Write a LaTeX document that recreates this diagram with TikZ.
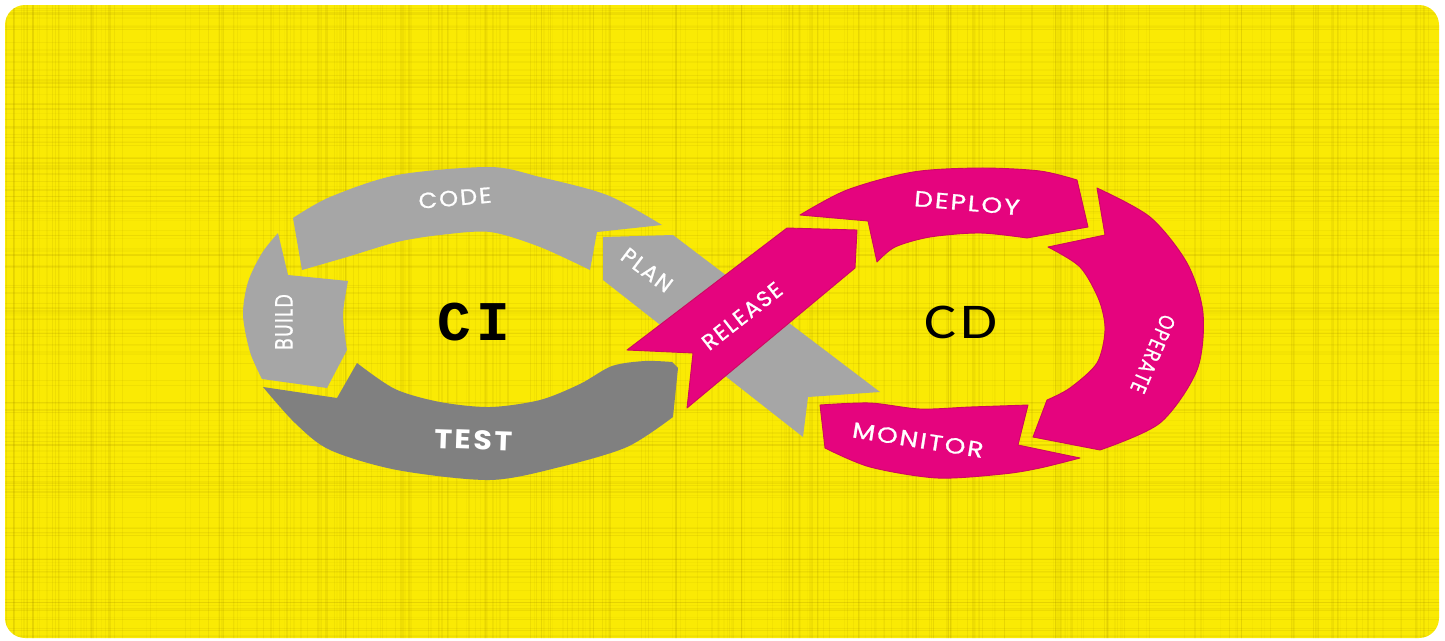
\documentclass[tikz,border=0pt]{standalone}
\usepackage{fontspec}
\setmainfont{Poppins}
\newfontfamily\lblfont{Poppins}[LetterSpace=8, FakeBold=0.9]
\newfontfamily\testfont{Poppins}[LetterSpace=8]
\newfontfamily\monofont{Liberation Mono}[LetterSpace=10]
\newfontfamily\cdfont{Carlito}[LetterSpace=8]
\definecolor{bgyellow}{RGB}{250,234,4}
\definecolor{texbrown}{RGB}{140,115,0}
\definecolor{ltgray}{RGB}{166,166,166}
\definecolor{dkgray}{RGB}{128,128,128}
\definecolor{mypink}{RGB}{229,4,126}
\definecolor{pinkedge}{RGB}{205,10,95}
\begin{document}
\begin{tikzpicture}[x=1pt,y=-1pt,
  pinkpiece/.style={fill=mypink, draw=pinkedge, line width=0.9pt, line join=round},
  lbl/.style={text=white, inner sep=0pt, font=\lblfont\fontsize{22}{25}\selectfont},
  bold lbl/.style={text=white, inner sep=0pt, font=\testfont\bfseries\fontsize{27}{30}\selectfont},
  big/.style={text=black, inner sep=0pt}]
\useasboundingbox (0,0) rectangle (1445,640);
\fill[white] (0,0) rectangle (1445,640);
% textured yellow background
\begin{scope}
  \clip[rounded corners=20] (5,5) rectangle (1439,638);
  \fill[bgyellow] (0,0) rectangle (1445,640);
  \pgfmathsetseed{11}
  \foreach \i in {1,...,320}{
    \pgfmathsetmacro{\xx}{5+1434*rnd}
    \pgfmathsetmacro{\op}{0.03+0.09*rnd}
    \pgfmathsetmacro{\lw}{0.4+1.4*rnd}
    \draw[line width=\lw pt, draw=texbrown, opacity=\op] (\xx,0) -- (\xx,640);
  }
  \foreach \i in {1,...,160}{
    \pgfmathsetmacro{\yy}{5+633*rnd}
    \pgfmathsetmacro{\op}{0.03+0.09*rnd}
    \pgfmathsetmacro{\lw}{0.4+1.4*rnd}
    \draw[line width=\lw pt, draw=texbrown, opacity=\op] (0,\yy) -- (1445,\yy);
  }
\end{scope}
% ---------- CI loop ----------
% CODE
\fill[ltgray] (293,218) -- plot[smooth] coordinates {(293,218) (330,197) (397,175) (490,167) (540,177) (607,195) (662,225)}
  -- (597,232) -- (590,270)
  -- plot[smooth] coordinates {(590,270) (540,247) (490,232) (440,235) (397,242) (347,257) (302,270)} -- cycle;
% BUILD
\fill[ltgray] (278,233) -- (288,275) -- (348,281)
  -- plot[smooth] coordinates {(348,281) (343,315) (347,350)}
  -- (327,388) -- (262,379)
  -- plot[smooth] coordinates {(262,379) (250,352) (243,315) (248,282) (262,253) (278,233)} -- cycle;
% TEST
\fill[dkgray] (263,387) -- (337,398) -- (357,363)
  -- plot[smooth] coordinates {(357,363) (395,389) (440,402) (490,407) (540,400) (580,384) (612,366) (645,361) (672,362)}
  -- (678,368) -- (673,417)
  -- plot[smooth] coordinates {(673,417) (627,447) (560,467) (490,480) (397,470) (330,450) (295,423) (263,387)} -- cycle;
% PLAN (band under RELEASE)
\fill[ltgray] (603,237) -- (673,235) -- (880,392) -- (808,397) -- (803,437) -- (603,280) -- cycle;
% ---------- CD loop ----------
% RELEASE
\path[pinkpiece] (627,350) -- (693,353) -- (687,408) -- (855,268) -- (857,230) -- (787,228) -- cycle;
% DEPLOY
\path[pinkpiece] (800,215) -- plot[smooth] coordinates {(800,215) (847,190) (913,172) (980,168) (1040,171) (1077,180)}
  -- (1088,227) -- (1027,238)
  -- plot[smooth] coordinates {(1027,238) (980,233) (930,237) (895,247) (877,262)}
  -- (868,221) -- cycle;
% OPERATE
\path[pinkpiece] (1097,188) -- (1105,235) -- (1048,247)
  -- plot[smooth] coordinates {(1048,247) (1080,267) (1099,300) (1105,330) (1097,363) (1070,388) (1047,400)}
  -- (1033,437) -- (1100,450)
  -- plot[smooth] coordinates {(1100,450) (1160,423) (1197,370) (1203,313) (1187,263) (1150,217) (1097,188)} -- cycle;
% MONITOR
\path[pinkpiece] (820,405) -- plot[smooth] coordinates {(820,405) (870,403) (920,409) (970,407) (1028,405)}
  -- (1018,445) -- (1080,458)
  -- plot[smooth] coordinates {(1080,458) (1040,468) (1003,474) (937,478) (870,467) (825,448)} -- cycle;
% ---------- labels ----------
\node[lbl, rotate=5, xscale=1.1] (code) at (455,198) {CODE};
\node[lbl, rotate=90, font=\lblfont\fontsize{25}{28}\selectfont, xscale=0.74] (build) at (284,322) {BUILD};
\node[bold lbl, rotate=-2, xscale=1.12] (test) at (474,440) {TEST};
\node[lbl, rotate=-37] (plan) at (647,270) {PLAN};
\node[lbl, rotate=38] (release) at (742,316) {RELEASE};
\node[lbl, rotate=-5, xscale=1.2] (deploy) at (967,203) {DEPLOY};
\node[lbl, rotate=-113, xscale=0.8] (operate) at (1153,354) {OPERATE};
\node[lbl, rotate=-9, xscale=1.2] (monitor) at (918,440) {MONITOR};
\node[big, font=\monofont\bfseries\fontsize{56}{60}\selectfont] (ci) at (474,322) {CI};
\node[big, font=\cdfont\fontsize{50}{54}\selectfont, xscale=1.2] (cd) at (961,322) {CD};
\end{tikzpicture}
\end{document}
